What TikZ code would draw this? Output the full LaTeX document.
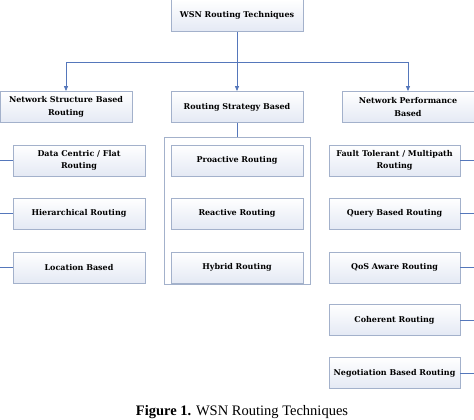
\documentclass[tikz,border=0pt]{standalone}
\usepackage{fontspec}
\setmainfont{Liberation Serif}
\newfontfamily\boxfont{DejaVu Serif}
\usetikzlibrary{arrows.meta}

\definecolor{boxline}{HTML}{A3B1CB}
\definecolor{boxfill}{HTML}{E4E9F4}
\definecolor{linkblue}{HTML}{5577BB}

\begin{document}
\begin{tikzpicture}[x=1pt,y=-1pt,
  box/.style={draw=boxline,line width=0.8pt,top color=white,bottom color=boxfill,
    minimum width=132pt,minimum height=31pt,align=center,inner sep=2pt,
    font=\boxfont\bfseries\fontsize{8}{12.5}\selectfont},
  link/.style={draw=linkblue,line width=0.8pt},
  group/.style={draw=boxline,line width=0.8pt,minimum width=146pt,minimum height=147pt}]

\useasboundingbox (0,0) rectangle (474,420);

\node [box,minimum height=32pt] (wsn) at (237,15.5) {WSN Routing Techniques};

\node [box] (netstruct) at (66,107) {Network Structure Based\\Routing};
\node [box] (strategy) at (237,107) {Routing Strategy Based};
\node [box] (netperf) at (408,107) {Network Performance\\Based};

\node [group] (strategygroup) at (237,210.5) {};

\node [box] (datacentric) at (79,160.5) {Data Centric / Flat\\Routing};
\node [box] (hier) at (79,213.5) {Hierarchical Routing};
\node [box] (location) at (79,267.5) {Location Based};

\node [box] (proactive) at (237,160.5) {Proactive Routing};
\node [box] (reactive) at (237,213.5) {Reactive Routing};
\node [box] (hybrid) at (237,267.5) {Hybrid Routing};

\node [box,minimum width=131pt] (fault) at (394.5,160.5) {Fault Tolerant / Multipath\\Routing};
\node [box,minimum width=131pt] (query) at (394.5,213.5) {Query Based Routing};
\node [box,minimum width=131pt] (qos) at (394.5,267.5) {QoS Aware Routing};
\node [box,minimum width=131pt] (coherent) at (394.5,320) {Coherent Routing};
\node [box,minimum width=131pt] (negotiation) at (394.5,373) {Negotiation Based Routing};

\coordinate (split) at (237,62) ;
\coordinate (leftbus) at (0,0) ;
\coordinate (rightbus) at (474,0) ;

\draw [link] (wsn.south) -- (split) ;
\draw [link,-{Triangle[length=5pt,width=4pt]}] (split) -- (strategy.north) ;
\draw [link,-{Triangle[length=5pt,width=4pt]}] (split) -| (netstruct.north) ;
\draw [link,-{Triangle[length=5pt,width=4pt]}] (split) -| (netperf.north) ;
\draw [link] (strategy.south) -- (strategygroup.north) ;

\foreach \n in {datacentric,hier,location}
  \draw [link] (\n.west -| leftbus) -- (\n.west) ;
\foreach \n in {fault,query,qos,coherent,negotiation}
  \draw [link] (\n.east) -- (\n.east -| rightbus) ;

\node (caption) at (242,412) {\fontsize{14.5}{16}\selectfont\textbf{Figure 1.} WSN Routing Techniques};

\end{tikzpicture}
\end{document}
